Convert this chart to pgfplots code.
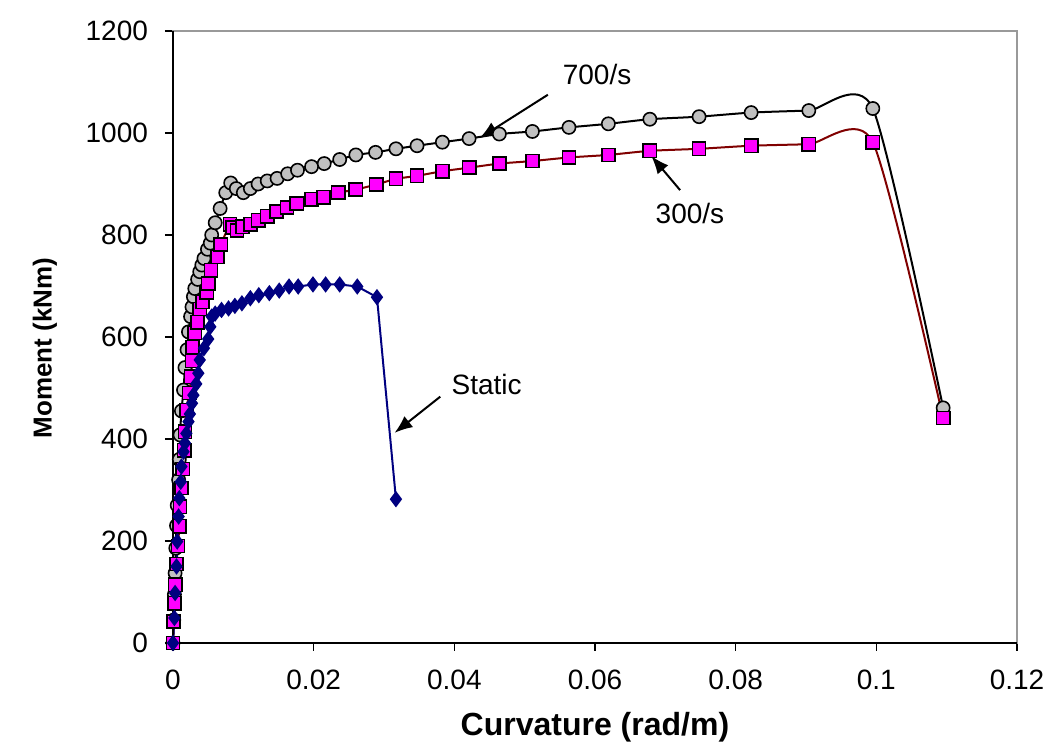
\documentclass[border=0pt]{standalone}
\usepackage{fontspec}
\setmainfont{Liberation Sans}
\usepackage{pgfplots}
\pgfplotsset{compat=1.18}
\usetikzlibrary{arrows.meta}

\definecolor{silvergray}{RGB}{192,192,192}
\definecolor{darkred}{RGB}{128,0,0}
\definecolor{navyblue}{RGB}{0,0,128}
\definecolor{pinkmag}{RGB}{255,0,255}

\begin{document}
\begin{tikzpicture}
\useasboundingbox (-86.5pt,-50pt) rectangle (438pt,321.5pt);
\begin{axis}[
  at={(0,0)}, anchor=south west,
  scale only axis, width=422pt, height=306pt,
  xmin=0, xmax=0.12, ymin=0, ymax=1200,
  xtick={0,0.02,0.04,0.06,0.08,0.1,0.12},
  xticklabels={0,0.02,0.04,0.06,0.08,0.1,0.12},
  ytick={0,200,400,600,800,1000,1200},
  yticklabels={0,200,400,600,800,1000,1200},
  xtick pos=bottom, ytick pos=left,
  tick align=outside, major tick length=4pt,
  tick style={black, line width=0.6pt},
  axis line style={draw=gray!80, line width=0.8pt},
  xticklabel style={font=\fontsize{14}{14}\selectfont, yshift=-6pt},
  yticklabel style={font=\fontsize{14}{14}\selectfont, xshift=-5pt},
  xlabel={\textbf{Curvature (rad/m)}},
  ylabel={\textbf{Moment (kNm)}},
  xlabel style={font=\fontsize{16}{16}\selectfont, at={(axis description cs:0.5,0)}, anchor=center, yshift=-42pt},
  ylabel style={font=\fontsize{13}{13}\selectfont, at={(axis description cs:0,0.482)}, anchor=center, yshift=64pt},
  clip=false,
]
% 700/s
\addplot[black, line width=1pt, smooth, tension=0.4, mark=*, mark size=3.3pt,
  mark options={fill=silvergray, draw=black, line width=0.8pt}]
coordinates {
(0,0) (0.0001,45) (0.0002,95) (0.0003,137) (0.0004,186) (0.0005,230)
(0.0006,270) (0.0008,320) (0.0009,360) (0.001,408) (0.0012,455)
(0.0015,496) (0.0017,540) (0.002,575) (0.0022,610) (0.0025,640)
(0.0027,659) (0.0029,679) (0.0031,695) (0.0035,713) (0.0038,728)
(0.0041,741) (0.0044,754) (0.0049,772) (0.0053,784) (0.0055,800)
(0.006,824) (0.0067,852) (0.0075,883) (0.0082,902) (0.009,891)
(0.01,883) (0.011,891) (0.0121,900) (0.0134,906) (0.0148,911)
(0.0163,920) (0.0177,927) (0.0197,934) (0.0215,940) (0.0237,948)
(0.026,957) (0.0288,962) (0.0317,969) (0.0347,975) (0.0383,982)
(0.0421,989) (0.0464,998) (0.0511,1003) (0.0563,1011) (0.0619,1018)
(0.0678,1027) (0.0748,1032) (0.0822,1040) (0.0904,1044) (0.0995,1048)
(0.1095,461)
};
% 300/s
\addplot[darkred, line width=1pt, smooth, tension=0.4, mark=square*, mark size=3.3pt,
  mark options={fill=pinkmag, draw=black, line width=0.8pt}]
coordinates {
(0,0) (0.0001,42) (0.0002,78) (0.0003,114) (0.0005,155) (0.0007,190)
(0.0009,229) (0.001,267) (0.0012,304) (0.0014,341) (0.0016,378)
(0.0017,414) (0.0019,457) (0.0023,490) (0.0026,522) (0.0027,553)
(0.0028,580) (0.0031,608) (0.0035,629) (0.0038,655) (0.0042,669)
(0.0048,687) (0.005,705) (0.0054,731) (0.0063,757) (0.0068,781)
(0.0081,821) (0.0085,815) (0.0091,809) (0.0099,816) (0.011,821)
(0.0121,829) (0.0134,837) (0.0147,846) (0.0162,854) (0.0176,862)
(0.0197,870) (0.0214,874) (0.0235,883) (0.026,889) (0.0289,899)
(0.0317,910) (0.0347,916) (0.0383,925) (0.0421,932) (0.0464,940)
(0.0511,945) (0.0563,952) (0.0619,957) (0.0678,965) (0.0748,969)
(0.0822,975) (0.0904,978) (0.0995,982) (0.1095,441)
};
% Static
\addplot[navyblue, line width=1pt, mark=diamond*, mark size=3.3pt,
  mark options={fill=navyblue, draw=navyblue}]
coordinates {
(0,0) (0.0002,49) (0.0003,98) (0.0005,150) (0.0006,199) (0.0008,248)
(0.0009,284) (0.0011,316) (0.0012,346) (0.0015,375) (0.0017,392)
(0.0019,411) (0.0022,434) (0.0024,449) (0.0027,470) (0.0029,486)
(0.0033,508) (0.0036,529) (0.0038,555) (0.0044,578) (0.005,596)
(0.0053,620) (0.0055,640) (0.006,646) (0.0069,653) (0.0079,656)
(0.0088,661) (0.0098,666) (0.011,676) (0.0122,682) (0.0137,686)
(0.0151,691) (0.0165,699) (0.0178,699) (0.0199,703) (0.0217,703)
(0.0237,703) (0.0262,699) (0.029,678) (0.0317,282)
};
% left and bottom axis lines in black
\draw[black, line width=0.8pt] (axis cs:0,1200) -- (axis cs:0,0) -- (axis cs:0.12,0);
% annotations
\draw[-{Latex[length=9pt,width=7pt]}, line width=1pt] (axis cs:0.0533,1075) -- (axis cs:0.0436,990);
\node[font=\fontsize{14}{14}\selectfont] at (axis cs:0.0603,1114) {700/s};
\draw[-{Latex[length=9pt,width=7pt]}, line width=1pt] (axis cs:0.0721,888) -- (axis cs:0.0680,955);
\node[font=\fontsize{14}{14}\selectfont] at (axis cs:0.0735,843) {300/s};
\draw[-{Latex[length=9pt,width=7pt]}, line width=1pt] (axis cs:0.0380,483) -- (axis cs:0.0315,412);
\node[font=\fontsize{14}{14}\selectfont] at (axis cs:0.0446,506) {Static};
\end{axis}
\end{tikzpicture}
\end{document}
